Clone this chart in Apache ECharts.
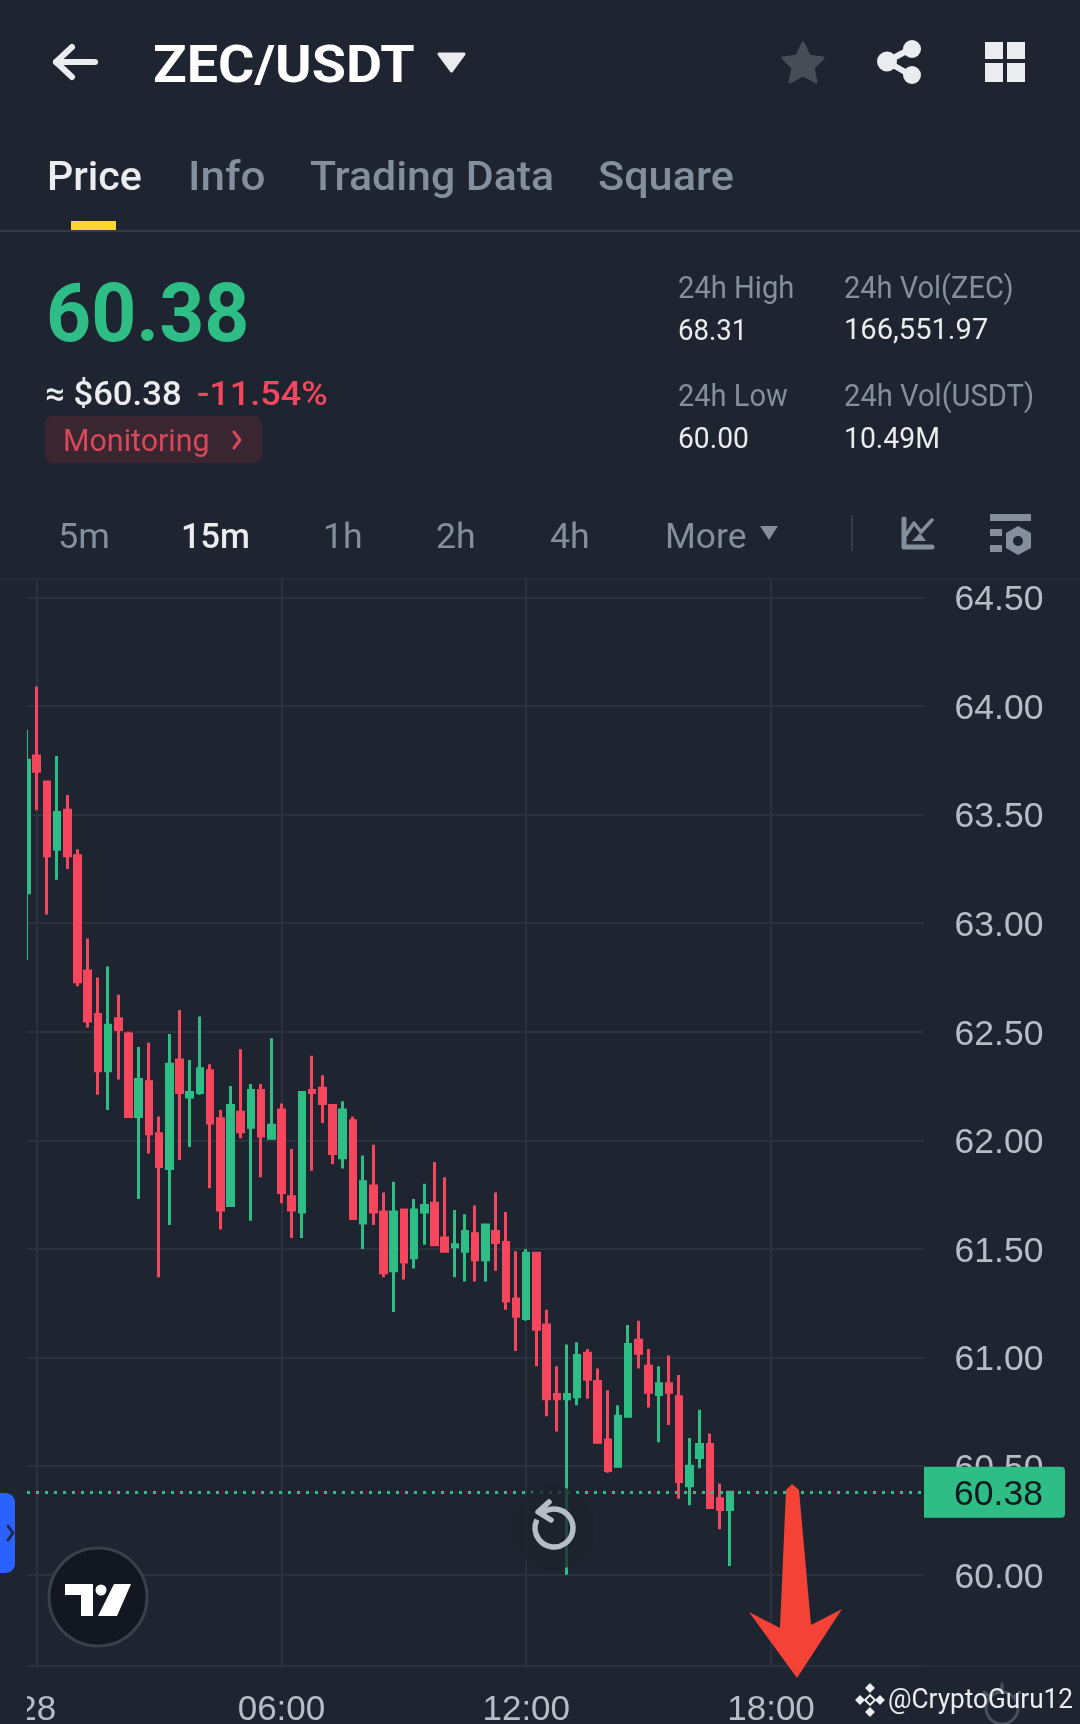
<!DOCTYPE html>
<html>
<head>
<meta charset="utf-8">
<title>ZEC/USDT</title>
<script src="https://cdn.jsdelivr.net/npm/echarts@6/dist/echarts.min.js"></script>
<style>
html,body{margin:0;padding:0;background:#1f2530;}
#main{width:1080px;height:1724px;}
</style>
</head>
<body>
<div id="main"></div>
<script>
// 15m candles; index 0 sits one slot before the "28" tick
var opens = [63.14,63.77,63.65,63.34,63.52,63.31,62.78,62.58,62.32,62.56,62.49,62.11,62.27,62.03,61.87,62.37,62.20,62.22,62.32,62.10,61.70,62.13,62.06,62.23,62.01,62.14,61.74,61.67,62.23,62.24,62.16,61.92,62.09,61.62,61.79,61.67,61.40,61.68,61.46,61.67,61.71,61.55,61.51,61.49,61.57,61.45,61.58,61.53,61.27,61.18,61.48,61.15,60.83,60.81,60.82,61.02,60.89,60.62,60.50,60.73,61.08,60.96,60.83,60.88,60.82,60.41,60.54,60.60,60.35,60.30];
var closes = [63.75,63.70,63.31,63.51,63.31,62.73,62.55,62.32,62.53,62.51,62.11,62.28,62.03,61.88,62.35,62.22,62.22,62.33,62.08,61.68,62.16,62.04,62.23,62.02,62.07,61.76,61.68,62.22,62.22,62.17,61.94,62.14,61.64,61.81,61.67,61.39,61.67,61.44,61.68,61.70,61.52,61.49,61.52,61.58,61.45,61.61,61.53,61.26,61.19,61.48,61.13,60.81,60.81,60.83,61.01,60.90,60.61,60.48,60.73,61.06,61.02,60.84,60.88,60.84,60.43,60.50,60.60,60.31,60.30,60.38];
var lows = [62.83,63.52,63.04,63.20,63.25,62.71,62.52,62.21,62.14,62.28,62.11,61.73,61.94,61.37,61.61,61.91,61.97,62.21,61.78,61.59,61.70,62.01,61.63,61.83,62.01,61.71,61.55,61.55,61.86,62.08,61.89,61.87,61.64,61.50,61.61,61.37,61.21,61.36,61.41,61.52,61.52,61.49,61.37,61.35,61.35,61.35,61.40,61.22,61.03,61.17,60.96,60.73,60.66,60.00,60.78,60.81,60.61,60.47,60.50,60.73,60.95,60.77,60.61,60.69,60.35,60.32,60.49,60.31,60.21,60.04];
var highs = [63.89,64.09,63.65,63.77,63.59,63.34,62.93,62.75,62.80,62.67,62.50,62.43,62.45,62.11,62.49,62.60,62.37,62.57,62.35,62.14,62.25,62.42,62.26,62.26,62.47,62.17,61.96,62.22,62.39,62.30,62.16,62.18,62.11,61.93,61.98,61.76,61.81,61.68,61.73,61.80,61.90,61.83,61.68,61.66,61.70,61.61,61.76,61.67,61.49,61.50,61.48,61.22,60.96,61.06,61.07,61.04,60.95,60.85,60.78,61.15,61.17,61.04,60.96,61.01,60.92,60.63,60.76,60.65,60.42,60.38];

var yTicks = [60,60.5,61,61.5,62,62.5,63,63.5,64,64.5];
var xTicks = [0,24,48,72];
var xTickLabels = ['28','06:00','12:00','18:00'];
var lastPrice = 60.38;

var BG = '#1f2530', GRID = '#2c323d', UP = '#2ebd85', DOWN = '#f6465d';
var GRAY = '#848e9c', WHITE = '#eaecef', AXIS_TXT = '#b7bdc6';
var FONT = 'Roboto, "Noto Sans", sans-serif';

var candles = opens.map(function (o, i) {
    return [i - 1, o, closes[i], lows[i], highs[i]];
});

// helpers for the app chrome around the chart
function txt(x, y, s, size, color, weight, sx) {
    return {type: 'text', x: x, y: y, z: 100, scaleX: sx || 1,
        style: {text: s, fill: color, textVerticalAlign: 'middle',
            font: (weight || 400) + ' ' + size + 'px ' + FONT}};
}
function rect(x, y, w, h, color, r) {
    return {type: 'rect', z: 100, shape: {x: x, y: y, width: w, height: h, r: r || 0}, style: {fill: color}};
}
function poly(points, color) {
    return {type: 'polygon', z: 100, shape: {points: points}, style: {fill: color}};
}
function path(points, color, w) {
    return {type: 'polyline', z: 100, shape: {points: points},
        style: {stroke: color, lineWidth: w, fill: null, lineCap: 'round', lineJoin: 'round'}};
}
function dot(x, y, r, color) {
    return {type: 'circle', z: 100, shape: {cx: x, cy: y, r: r}, style: {fill: color}};
}
function diamond(x, y, half, filled) {
    return {type: 'rect', z: 100, x: x, y: y, rotation: Math.PI / 4,
        shape: {x: -half, y: -half, width: half * 2, height: half * 2},
        style: filled ? {fill: WHITE} : {fill: 'none', stroke: WHITE, lineWidth: 2}};
}

var chrome = [
    // candlestick clip only drops whole boxes, so mask what pokes out left of the plot
    {type: 'rect', z: 90, shape: {x: 0, y: 580, width: 27, height: 1144}, style: {fill: BG}},
    rect(0, 578, 1080, 2, '#262c37'),
    rect(924, 1665, 156, 2, '#262c37'),

    // top bar
    path([[95, 62], [56, 62]], WHITE, 6),
    path([[72, 47], [56, 62], [72, 77]], WHITE, 6),
    txt(153, 69, 'ZEC/USDT', 51, '#ffffff', 700, 1.09),
    {type: 'polygon', z: 100, shape: {points: [[439, 54], [464, 54], [451.5, 71]]},
        style: {fill: WHITE, stroke: WHITE, lineWidth: 3, lineJoin: 'round'}},
    {type: 'polygon', z: 100, shape: {points: [[803, 43], [809, 56], [823, 58], [813, 68], [816, 82], [803, 75], [790, 82], [793, 68], [783, 58], [797, 56]]},
        style: {fill: '#474d57', stroke: '#474d57', lineWidth: 3, lineJoin: 'round'}},
    path([[912, 48], [887, 61.5], [912, 76]], WHITE, 6),
    dot(887, 61.5, 10, WHITE), dot(912, 49, 9, WHITE), dot(912, 75, 9, WHITE),
    rect(985, 42, 18, 17, WHITE), rect(1007, 42, 18, 17, WHITE),
    rect(985, 63, 18, 19, WHITE), rect(1007, 63, 18, 19, WHITE),

    // tabs
    txt(47, 180, 'Price', 40, WHITE, 500, 1.03),
    txt(188, 180, 'Info', 40, GRAY, 500, 1.1),
    txt(310, 180, 'Trading Data', 40, GRAY, 500, 1.07),
    txt(598, 180, 'Square', 40, GRAY, 500, 1.08),
    rect(71, 221, 45, 9, '#fcd535'),
    rect(0, 230, 1080, 2, '#343a45'),

    // price block
    txt(46, 320, '60.38', 82, UP, 700, 0.96),
    txt(45, 396, '\u2248 $60.38', 34, WHITE, 500, 1.02),
    txt(197, 396, '-11.54%', 34, DOWN, 500, 1.06),
    rect(45, 416, 217, 47, '#3a2630', 8),
    txt(63, 443, 'Monitoring', 31, '#d9475b', 400, 0.98),
    path([[234, 432], [240, 440], [234, 448]], '#d9475b', 3),

    // 24h stats
    txt(678, 290, '24h High', 31, GRAY, 400, 0.94),
    txt(678, 332, '68.31', 30, WHITE, 400, 0.92),
    txt(844, 290, '24h Vol(ZEC)', 31, GRAY, 400, 0.935),
    txt(844, 331, '166,551.97', 30, WHITE, 400, 0.97),
    txt(678, 398, '24h Low', 31, GRAY, 400, 0.936),
    txt(678, 440, '60.00', 30, WHITE, 400, 0.94),
    txt(844, 398, '24h Vol(USDT)', 31, GRAY, 400, 0.94),
    txt(844, 440, '10.49M', 30, WHITE, 400, 0.945),

    // interval row
    txt(58, 539, '5m', 35, GRAY, 400, 1.03),
    txt(181, 539, '15m', 35, WHITE, 500, 0.98),
    txt(323, 539, '1h', 35, GRAY, 400, 1.02),
    txt(436, 539, '2h', 35, GRAY, 400, 1.02),
    txt(550, 539, '4h', 35, GRAY, 400, 1.02),
    txt(665, 539, 'More', 35, GRAY, 400, 1.01),
    poly([[760, 526], [778, 526], [769, 540]], GRAY),
    rect(851, 515, 2, 36, '#363c47'),
    path([[904, 519], [904, 547], [932, 547]], GRAY, 5),
    path([[906, 535], [914, 523], [921, 532], [932, 520]], GRAY, 3.5),
    poly([[912, 541], [920, 533], [926, 541]], GRAY),
    rect(990, 514, 41, 7, GRAY),
    rect(990, 529, 12, 7, GRAY), rect(990, 545, 12, 7, GRAY),
    poly([[1018, 526], [1031, 533], [1031, 548], [1018, 555], [1006, 548], [1006, 533]], GRAY),
    dot(1018, 541, 5, BG),

    // blue drawer tab
    {type: 'rect', z: 100, shape: {x: -10, y: 1493, width: 25, height: 80, r: 9}, style: {fill: '#2962ff'}},
    path([[8, 1526], [13, 1533], [8, 1540]], '#1b2a52', 3),

    // tradingview badge
    {type: 'circle', z: 100, shape: {cx: 98, cy: 1597, r: 49}, style: {fill: '#131722', stroke: '#3a3f4a', lineWidth: 3}},
    poly([[65, 1584], [93, 1584], [93, 1616], [81, 1616], [81, 1595], [65, 1595]], '#ffffff'),
    dot(101, 1590, 5.5, '#ffffff'),
    poly([[131, 1584], [114, 1584], [98, 1616], [117, 1616]], '#ffffff'),

    // reset button
    {type: 'circle', z: 100, shape: {cx: 553, cy: 1528, r: 42}, style: {fill: 'rgba(29,34,44,0.78)'}},
    {type: 'arc', z: 100, shape: {cx: 554, cy: 1528, r: 19, startAngle: -2.2, endAngle: 3.6, clockwise: true},
        style: {stroke: '#b7bdc6', lineWidth: 5.5, fill: null}},
    path([[549, 1502], [538, 1512], [551, 1520]], '#b7bdc6', 5.5),

    // annotation arrow
    poly([[786, 1490], [792, 1484], [799, 1490], [811, 1625], [842, 1609], [797, 1678], [749, 1612], [780, 1628]], '#f44336'),

    // watermark
    diamond(870, 1688, 3.5, true), diamond(860, 1700, 3.5, true), diamond(880, 1700, 3.5, true), diamond(870, 1712, 3.5, true),
    diamond(870, 1700, 3.5, false),
    {type: 'circle', z: 95, shape: {cx: 1002, cy: 1708, r: 16}, style: {fill: null, stroke: '#4a505c', lineWidth: 3}},
    path([[1002, 1684], [1002, 1691]], '#4a505c', 3),
    path([[984, 1692], [989, 1696]], '#4a505c', 3),
    path([[1020, 1692], [1015, 1696]], '#4a505c', 3),
    txt(888, 1701, '@CryptoGuru12', 27, WHITE, 400, 0.97)
];

var myChart = echarts.init(document.getElementById('main'));
var option = {
    backgroundColor: BG,
    animation: false,
    textStyle: {fontFamily: FONT},
    grid: {left: 27, right: 156, top: 580, bottom: 58, outerBoundsMode: 'none'},
    xAxis: {
        type: 'value',
        min: -0.95,
        max: 87,
        axisLine: {show: true, lineStyle: {color: GRID, width: 2}},
        axisTick: {show: false, customValues: xTicks},
        splitLine: {show: true, lineStyle: {color: GRID, width: 2}},
        axisLabel: {
            customValues: xTicks,
            color: AXIS_TXT,
            fontFamily: 'Liberation Sans',
            fontSize: 35,
            margin: 27,
            hideOverlap: false,
            formatter: function (v) { return xTickLabels[xTicks.indexOf(v)]; }
        }
    },
    yAxis: {
        type: 'value',
        position: 'right',
        min: 59.58,
        max: 64.58,
        axisLine: {show: false},
        axisTick: {show: false, customValues: yTicks},
        splitLine: {show: true, lineStyle: {color: GRID, width: 2}},
        axisLabel: {
            customValues: yTicks,
            margin: 75,
            align: 'center',
            // rich padding nudges the text a little below its gridline, as in the screenshot
            formatter: function (v) { return '{t|' + v.toFixed(2) + '}'; },
            rich: {
                t: {
                    color: AXIS_TXT,
                    fontFamily: 'Liberation Sans',
                    fontSize: 35.5,
                    padding: [6, 0, 0, 0]
                }
            }
        }
    },
    series: [{
        type: 'candlestick',
        data: candles,
        encode: {x: 0, y: [1, 2, 3, 4]},
        barWidth: 6,
        itemStyle: {color: UP, color0: DOWN, borderColor: UP, borderColor0: DOWN, borderWidth: 3},
        markLine: {
            silent: true,
            symbol: 'none',
            animation: false,
            lineStyle: {color: UP, type: [3, 6], width: 3},
            label: {
                show: true,
                position: 'end',
                distance: 0,
                align: 'left',
                formatter: '{p|' + lastPrice.toFixed(2) + '}',
                rich: {
                    p: {
                        color: '#14181f',
                        fontFamily: 'Liberation Sans',
                        fontSize: 35.5,
                        width: 133,
                        height: 45,
                        lineHeight: 45,
                        align: 'center',
                        padding: [6, 0, 0, 8],
                        backgroundColor: UP,
                        borderRadius: [0, 4, 4, 0]
                    }
                }
            },
            data: [{yAxis: lastPrice}]
        }
    }],
    graphic: {elements: chrome}
};
myChart.setOption(option);
</script>
</body>
</html>
